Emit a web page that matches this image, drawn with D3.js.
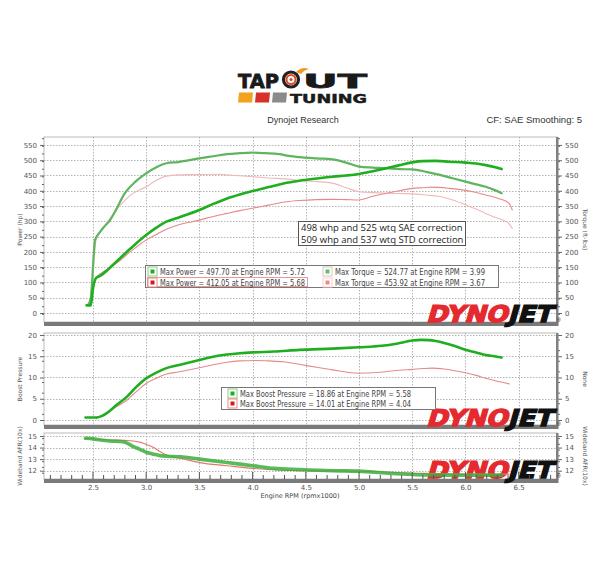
<!DOCTYPE html>
<html><head><meta charset="utf-8">
<script src="https://cdn.jsdelivr.net/npm/d3@7"></script>
<style>
body{margin:0;background:#fff;}
svg{display:block;font-family:"Liberation Sans",Arial,sans-serif;}
</style></head>
<body><svg id="c" width="600" height="583"></svg>
<script>
// ---------- DATA ----------
const xTicks = [2.5, 3.0, 3.5, 4.0, 4.5, 5.0, 5.5, 6.0, 6.5];
const powerTicks = [0, 50, 100, 150, 200, 250, 300, 350, 400, 450, 500, 550];
const boostTicks = [0, 5, 10, 15, 20];
const afrTicks = [12, 13, 14, 15];

const power1Rpm = [2.44, 2.48, 2.50, 2.53, 2.57, 2.65, 2.72, 2.85, 3.0, 3.1, 3.19, 3.3, 3.5, 3.63, 3.76, 3.88, 4.0, 4.15, 4.29, 4.44, 4.6, 4.75, 4.88, 5.0, 5.13, 5.26, 5.38, 5.5, 5.6, 5.72, 5.85, 6.0, 6.1, 6.19, 6.27, 6.34];
const power1Val = [25, 25, 80, 115, 122, 145, 168, 210, 255, 280, 299, 312, 337, 357, 375, 388, 399, 412, 424, 433, 440, 446, 450, 455, 464, 474, 484, 493, 497, 497.7, 495, 492, 489, 484, 478, 471];

const torque1Rpm = [2.46, 2.48, 2.52, 2.56, 2.6, 2.66, 2.72, 2.8, 2.9, 3.0, 3.1, 3.19, 3.3, 3.5, 3.63, 3.76, 3.88, 3.99, 4.12, 4.25, 4.34, 4.44, 4.6, 4.75, 4.88, 5.0, 5.13, 5.26, 5.38, 5.5, 5.63, 5.76, 5.88, 6.0, 6.1, 6.19, 6.27, 6.34];
const torque1Val = [30, 50, 240, 262, 280, 304, 340, 392, 430, 457, 478, 490, 494, 506, 513, 520, 523, 524.77, 523, 520, 514, 510, 506, 503, 492, 479, 476, 474, 471, 470, 462, 452, 441, 430, 421, 413, 403, 392];

const power2Rpm = [2.47, 2.50, 2.53, 2.62, 2.72, 2.85, 3.0, 3.1, 3.19, 3.3, 3.5, 3.63, 3.76, 3.88, 4.0, 4.15, 4.32, 4.44, 4.6, 4.75, 4.88, 5.0, 5.13, 5.26, 5.38, 5.5, 5.6, 5.68, 5.85, 5.97, 6.08, 6.19, 6.31, 6.41, 6.44];
const power2Val = [30, 80, 115, 140, 163, 200, 239, 258, 274, 288, 304, 316, 326, 335, 343, 353, 364, 368, 371, 372, 371, 370, 382, 392, 400, 408, 410, 412.05, 408, 403, 396, 386, 375, 359, 337];

const torque2Rpm = [2.47, 2.50, 2.53, 2.62, 2.72, 2.85, 3.0, 3.1, 3.19, 3.3, 3.5, 3.67, 3.76, 3.88, 4.0, 4.15, 4.34, 4.44, 4.6, 4.75, 4.88, 5.0, 5.13, 5.26, 5.38, 5.5, 5.63, 5.76, 5.88, 6.0, 6.1, 6.19, 6.27, 6.35, 6.41, 6.44];
const torque2Val = [30, 130, 240, 290, 337, 385, 413, 435, 448, 452, 453, 453.92, 452, 449, 446, 442, 438, 433, 430, 425, 410, 397, 394, 392, 391, 390, 386, 381, 370, 354, 340, 326, 314, 304, 292, 277];

const boost1Rpm = [2.43, 2.53, 2.58, 2.63, 2.72, 2.82, 2.9, 3.0, 3.1, 3.19, 3.3, 3.5, 3.63, 3.76, 3.88, 4.0, 4.2, 4.44, 4.75, 5.0, 5.13, 5.26, 5.38, 5.5, 5.58, 5.65, 5.72, 5.79, 5.9, 6.0, 6.1, 6.19, 6.27, 6.34];
const boost1Val = [0.6, 0.6, 0.9, 1.6, 3.5, 5.5, 7.6, 9.8, 11.2, 12.2, 12.9, 14.1, 14.9, 15.4, 15.7, 15.9, 16.1, 16.5, 16.8, 17.1, 17.3, 17.6, 18.1, 18.7, 18.86, 18.8, 18.6, 18.2, 17.4, 16.5, 15.9, 15.3, 15.0, 14.7];

const boost2Rpm = [2.53, 2.6, 2.7, 2.82, 2.9, 3.0, 3.1, 3.19, 3.3, 3.5, 3.63, 3.76, 3.88, 4.04, 4.15, 4.29, 4.44, 4.6, 4.75, 5.0, 5.13, 5.26, 5.38, 5.5, 5.6, 5.69, 5.8, 6.0, 6.1, 6.19, 6.3, 6.41];
const boost2Val = [0.3, 1.2, 2.8, 4.7, 6.5, 8.6, 9.9, 10.8, 11.3, 12.3, 13.0, 13.6, 13.9, 14.01, 13.9, 13.7, 13.1, 12.4, 11.8, 11.0, 11.1, 11.4, 11.7, 11.9, 12.1, 12.2, 12.0, 11.1, 10.5, 9.8, 9.1, 8.5];

const afr1Rpm = [2.43, 2.5, 2.57, 2.66, 2.78, 2.83, 2.88, 2.94, 3.0, 3.06, 3.13, 3.2, 3.32, 3.5, 3.76, 4.0, 4.2, 4.44, 4.75, 5.0, 5.25, 5.5, 5.75, 6.0, 6.2, 6.34];
const afr1Val = [14.8, 14.75, 14.66, 14.57, 14.5, 14.35, 14.08, 13.85, 13.6, 13.45, 13.3, 13.25, 13.2, 13.0, 12.7, 12.43, 12.2, 12.1, 12.0, 11.96, 11.8, 11.67, 11.62, 11.6, 11.6, 11.6];

const afr2Rpm = [2.43, 2.55, 2.66, 2.8, 2.88, 2.95, 3.0, 3.07, 3.13, 3.19, 3.25, 3.32, 3.5, 3.76, 4.0, 4.44, 4.75, 5.0, 5.5, 6.0, 6.41];
const afr2Val = [14.8, 14.72, 14.66, 14.62, 14.57, 14.45, 14.28, 14.0, 13.65, 13.36, 13.2, 13.07, 12.7, 12.43, 12.2, 12.0, 11.98, 11.95, 11.8, 11.7, 11.7];

const legendTop = [
  "Max Power = 497.70 at Engine RPM = 5.72",
  "Max Power = 412.05 at Engine RPM = 5.68",
  "Max Torque = 524.77 at Engine RPM = 3.99",
  "Max Torque = 453.92 at Engine RPM = 3.67"
];
const legendBoost = [
  "Max Boost Pressure = 18.86 at Engine RPM = 5.58",
  "Max Boost Pressure = 14.01 at Engine RPM = 4.04"
];
const noteLines = ["498 whp and 525 wtq SAE correction", "509 whp and 537 wtq STD correction"];

// ---------- DRAW ----------
const svg = d3.select("#c");
const X0 = 44, X1 = 557;
const x = d3.scaleLinear().domain([2.04, 6.86]).range([X0, X1]);

const C_G = "#1fae1f", C_G2 = "#5fb55f", C_R = "#e58a8a", C_R2 = "#f2b8b8";
const tickCol = "#555", gridCol = "#b5b5b5";

function zip(r, v) { return r.map((d, i) => [d, v[i]]); }

function panel(p) {
  const y = d3.scaleLinear().domain(p.dom).range([p.y1, p.y0]);
  const g = svg.append("g");
  g.append("rect").attr("x", X0).attr("y", p.y0).attr("width", X1 - X0).attr("height", p.y1 - p.y0)
    .attr("fill", "#fff").attr("stroke", "#bbb").attr("stroke-width", 1);
  g.selectAll(".hg").data(p.ticks).join("line")
    .attr("x1", X0).attr("x2", X1).attr("y1", d => Math.round(y(d)) + 0.5).attr("y2", d => Math.round(y(d)) + 0.5)
    .attr("stroke", gridCol).attr("stroke-dasharray", "1.5,1.5").attr("stroke-width", 1);
  g.selectAll(".vg").data(xTicks).join("line")
    .attr("x1", d => Math.round(x(d)) + 0.5).attr("x2", d => Math.round(x(d)) + 0.5).attr("y1", p.y0).attr("y2", p.y1)
    .attr("stroke", gridCol).attr("stroke-dasharray", "1.5,1.5").attr("stroke-width", 1);
  const la = d3.axisLeft(y).tickValues(p.ticks).tickSize(4).tickFormat(d3.format("d"));
  const ra = d3.axisRight(y).tickValues(p.ticks).tickSize(4).tickFormat(d3.format("d"));
  const ga = g.append("g").attr("transform", `translate(${X0},0)`).call(la);
  const gb = g.append("g").attr("transform", `translate(${X1 + 1},0)`).call(ra);
  [ga, gb].forEach(a => {
    a.select(".domain").remove();
    a.selectAll("line").attr("stroke", "#666");
    a.selectAll("text").attr("fill", tickCol).style("font-size", "7px").style("font-family", "DejaVu Sans, sans-serif");
  });
  const minors = d3.range(p.dom[0], p.dom[1], p.minor).filter(v => !p.ticks.includes(v) && y(v) > p.y0 && y(v) < p.y1);
  g.selectAll(".ml").data(minors).join("line").attr("x1", X0).attr("x2", X0 - 2)
    .attr("y1", d => y(d)).attr("y2", d => y(d)).attr("stroke", "#666");
  g.selectAll(".mr").data(minors).join("line").attr("x1", X1 + 1).attr("x2", X1 + 3)
    .attr("y1", d => y(d)).attr("y2", d => y(d)).attr("stroke", "#666");
  g.append("rect").attr("x", X1 - 1).attr("y", p.y0).attr("width", 2.5).attr("height", p.y1 - p.y0 + 1).attr("fill", "#808080");
  g.append("rect").attr("x", X0).attr("y", p.y1).attr("width", X1 - X0 + 1.5).attr("height", 4).attr("fill", "#7a7a7a");
  g.append("text").attr("transform", `translate(22,${(p.y0 + p.y1) / 2}) rotate(-90)`).attr("text-anchor", "middle")
    .style("font-size", "6px").attr("fill", "#555").style("font-family", "DejaVu Sans, sans-serif").text(p.lt);
  g.append("text").attr("transform", `translate(583,${(p.y0 + p.y1) / 2}) rotate(90)`).attr("text-anchor", "middle")
    .style("font-size", "6px").attr("fill", "#555").style("font-family", "DejaVu Sans, sans-serif").text(p.rt);
  // watermark (skewed heavy text)
  const wm = g.append("text").attr("transform", `translate(${p.wx},${p.wy}) skewX(-16)`)
    .style("font-family", "DejaVu Sans, sans-serif").style("font-weight", "bold").style("font-size", p.ws + "px");
  wm.append("tspan").attr("fill", "#e52a2f").attr("stroke", "#e52a2f").attr("stroke-width", 1.4).text("DYNO");
  wm.append("tspan").attr("fill", "#111").attr("stroke", "#111").attr("stroke-width", 1.4).text("JET");
  wm.attr("textLength", 126).attr("lengthAdjust", "spacingAndGlyphs");
  g.append("text").attr("x", p.wx + 131).attr("y", p.wy).style("font-size", "5px").attr("fill", "#111").text("®");
  return { g, y };
}

function line(pn, r, v, col, w, op) {
  const gen = d3.line().x(d => x(d[0])).y(d => pn.y(d[1])).curve(d3.curveMonotoneX);
  pn.g.append("path").datum(zip(r, v)).attr("d", gen).attr("fill", "none")
    .attr("stroke", col).attr("stroke-width", w).attr("stroke-opacity", op || 1)
    .attr("stroke-linejoin", "round").attr("stroke-linecap", "round");
}

// header / logo
const hdr = svg.append("g");
hdr.append("text").attr("x", 238).attr("y", 87.5).attr("textLength", 41).attr("lengthAdjust", "spacingAndGlyphs")
  .style("font-family", "DejaVu Sans, sans-serif").style("font-weight", "bold").style("font-size", "20px").attr("fill", "#1a1a1a")
  .attr("stroke", "#1a1a1a").attr("stroke-width", 0.8).text("TAP");
hdr.append("circle").attr("cx", 291).attr("cy", 79.5).attr("r", 7.5).attr("fill", "#fff").attr("stroke", "#222").attr("stroke-width", 3.2);
hdr.append("circle").attr("cx", 291).attr("cy", 79.5).attr("r", 4.5).attr("fill", "#fff").attr("stroke", "#e04a25").attr("stroke-width", 2);
hdr.append("circle").attr("cx", 291).attr("cy", 79.5).attr("r", 1.6).attr("fill", "#e04a25");
hdr.append("path").attr("d", "M296,72 Q302,66 309,69 Q304,70 301,74 Z").attr("fill", "#f29a1f");
hdr.append("text").attr("x", 303).attr("y", 87.5).attr("textLength", 64).attr("lengthAdjust", "spacingAndGlyphs")
  .style("font-family", "DejaVu Sans, sans-serif").style("font-weight", "bold").style("font-size", "20px").attr("fill", "#1a1a1a")
  .attr("stroke", "#1a1a1a").attr("stroke-width", 0.8).text("UT");
hdr.append("text").attr("x", 290).attr("y", 103).attr("textLength", 77).attr("lengthAdjust", "spacingAndGlyphs")
  .style("font-family", "DejaVu Sans, sans-serif").style("font-weight", "bold").style("font-size", "13px").attr("fill", "#1a1a1a")
  .attr("stroke", "#1a1a1a").attr("stroke-width", 0.5).text("TUNING");
[["#f2a21c", 238], ["#d8312a", 255], ["#8a8a8a", 272]].forEach(([c, bx]) =>
  hdr.append("path").attr("d", `M${bx + 1},92.5 L${bx + 15},92.5 L${bx + 14},102.5 L${bx},102.5 Z`).attr("fill", c));
hdr.append("text").attr("x", 303).attr("y", 123).attr("text-anchor", "middle").style("font-size", "9px").attr("fill", "#333").text("Dynojet Research");
hdr.append("text").attr("x", 582).attr("y", 123).attr("text-anchor", "end").style("font-size", "9.5px").attr("fill", "#333").text("CF: SAE Smoothing: 5");

// panels
const P1 = panel({ y0: 137, y1: 322, dom: [-29.5, 576], ticks: powerTicks, minor: 25, lt: "Power (hp)", rt: "Torque (ft-lbs)", wx: 426, wy: 322, ws: 23 });
const P2 = panel({ y0: 333, y1: 425, dom: [-1.18, 20.47], ticks: boostTicks, minor: 2.5, lt: "Boost Pressure", rt: "None", wx: 426, wy: 426, ws: 23 });
const P3 = panel({ y0: 433, y1: 479, dom: [11.28, 15.26], ticks: afrTicks, minor: 0.5, lt: "Wideband AFR(10x)", rt: "Wideband AFR(10x)", wx: 426, wy: 478, ws: 23 });

// curves
line(P1, torque2Rpm, torque2Val, C_R2, 1.1);
line(P1, power2Rpm, power2Val, C_R, 1.1);
line(P1, torque1Rpm, torque1Val, C_G2, 2.2);
line(P1, power1Rpm, power1Val, C_G, 2.6);
line(P2, boost2Rpm, boost2Val, C_R, 1.1);
line(P2, boost1Rpm, boost1Val, C_G, 2.6);
line(P3, afr2Rpm, afr2Val, "#e07a6a", 1.1);
line(P3, afr1Rpm, afr1Val, "#3cae3c", 3.6, 0.85);

// x axis
const xa = d3.axisBottom(x).tickValues(xTicks).tickSize(0).tickPadding(6).tickFormat(d3.format(".1f"));
const gx = svg.append("g").attr("transform", "translate(0,479)").call(xa);
gx.select(".domain").remove();
gx.selectAll("text").attr("fill", tickCol).style("font-size", "7px").style("font-family", "DejaVu Sans, sans-serif");
const xMinor = d3.range(2.1, 6.85, 0.1).map(v => +v.toFixed(1));
svg.append("g").selectAll("line").data(xMinor).join("line")
  .attr("x1", d => x(d)).attr("x2", d => x(d)).attr("y1", 479).attr("y2", d => Math.abs(d * 2 - Math.round(d * 2)) < 1e-6 ? 472 : 475)
  .attr("stroke", "#555");
svg.append("text").attr("x", 300).attr("y", 498).attr("text-anchor", "middle").style("font-size", "6.5px")
  .style("font-family", "DejaVu Sans, sans-serif").attr("fill", "#444").text("Engine RPM (rpmx1000)");

// note box
const nb = P1.g.append("g");
nb.append("rect").attr("x", 298.5).attr("y", 221.5).attr("width", 167).attr("height", 24).attr("fill", "#fff").attr("stroke", "#555");
noteLines.forEach((t, i) => nb.append("text").attr("x", 301).attr("y", 230.5 + i * 12.5).style("font-size", "9.5px")
  .style("font-family", "Open Sans, sans-serif").attr("fill", "#222").text(t));

// legends
function swatch(g, sx, sy, fill, border) {
  g.append("rect").attr("x", sx).attr("y", sy).attr("width", 9).attr("height", 9).attr("fill", "#fff").attr("stroke", border);
  g.append("rect").attr("x", sx + 2.5).attr("y", sy + 2.5).attr("width", 4).attr("height", 4).attr("fill", fill);
}
const lg = P1.g.append("g");
lg.append("rect").attr("x", 145.5).attr("y", 265.5).attr("width", 353).attr("height", 22).attr("fill", "#fff").attr("stroke", "#777");
lg.append("rect").attr("x", 147.5).attr("y", 277.5).attr("width", 160).attr("height", 9).attr("fill", "none").attr("stroke", "#e99");
const lgPos = [[148, 267, C_G, "#8c8"], [148, 278, "#d81818", "#e88"], [323, 267, "#6bb86b", "#ccc"], [323, 278, "#f08a8a", "#fcc"]];
legendTop.forEach((t, i) => {
  const [sx, sy, f, b] = lgPos[i];
  swatch(lg, sx, sy, f, b);
  lg.append("text").attr("x", sx + 12).attr("y", sy + 7.5).attr("textLength", i < 2 ? 145 : 150).attr("lengthAdjust", "spacingAndGlyphs")
    .style("font-size", "8.5px").style("font-family", "DejaVu Sans, sans-serif").attr("fill", "#444").text(t);
});
const lb = P2.g.append("g");
lb.append("rect").attr("x", 221.5).attr("y", 387.5).attr("width", 214).attr("height", 22).attr("fill", "#fff").attr("stroke", "#777");
[[228, 389, C_G, "#8c8"], [228, 399, "#d81818", "#e88"]].forEach(([sx, sy, f, b], i) => {
  swatch(lb, sx, sy, f, b);
  lb.append("text").attr("x", sx + 12).attr("y", sy + 7.5).attr("textLength", 171).attr("lengthAdjust", "spacingAndGlyphs")
    .style("font-size", "8.5px").style("font-family", "DejaVu Sans, sans-serif").attr("fill", "#444").text(legendBoost[i]);
});
</script></body></html>
